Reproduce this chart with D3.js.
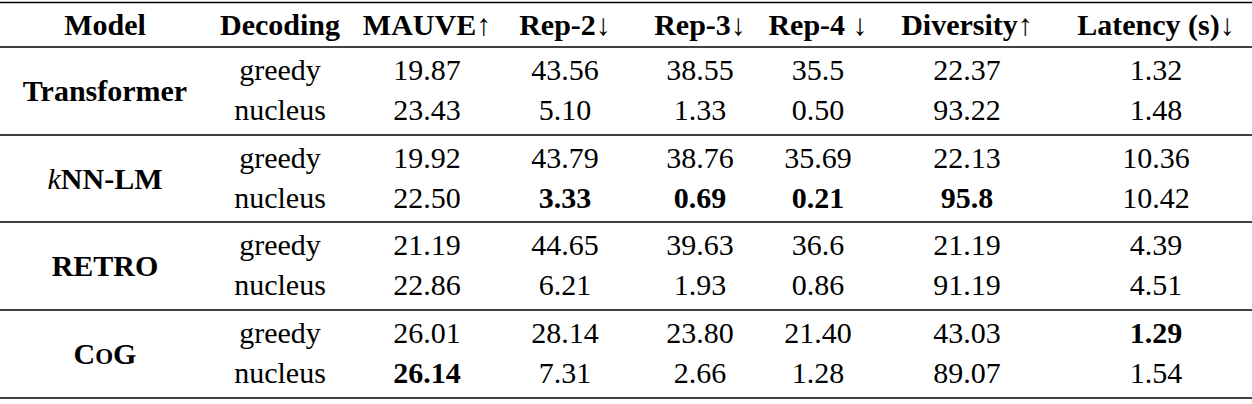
<!DOCTYPE html><html><head><meta charset="utf-8"><script src="https://cdn.jsdelivr.net/npm/d3@7"></script>
<style>body{margin:0;background:#fff}</style></head><body><svg id="c" width="1252" height="404"></svg>
<script>
const headers=["Model","Decoding","MAUVE↑","Rep-2↓","Rep-3↓","Rep-4 ↓","Diversity↑","Latency (s)↓"];
const models=["Transformer","kNN-LM","RETRO","CoG"];
const decodings=["greedy","nucleus"];
const values=[
 [["19.87","43.56","38.55","35.5","22.37","1.32"],["23.43","5.10","1.33","0.50","93.22","1.48"]],
 [["19.92","43.79","38.76","35.69","22.13","10.36"],["22.50","3.33","0.69","0.21","95.8","10.42"]],
 [["21.19","44.65","39.63","36.6","21.19","4.39"],["22.86","6.21","1.93","0.86","91.19","4.51"]],
 [["26.01","28.14","23.80","21.40","43.03","1.29"],["26.14","7.31","2.66","1.28","89.07","1.54"]]
];
const bold=[[1,1,1],[1,1,2],[1,1,3],[1,1,4],[3,1,0],[3,0,5]];
const colX=[105,280,427,565,700,818,967,1156];
const svg=d3.select("#c");
const F="'Liberation Serif','DejaVu Serif',serif";
const FS=30;
const lines=[2.5,47,135,222,310,398];
lines.forEach(v=>svg.append("line").attr("x1",0).attr("x2",1252).attr("y1",v).attr("y2",v).attr("stroke","#000").attr("stroke-width",1.3));
svg.selectAll("text.h").data(headers).join("text").attr("x",(d,i)=>colX[i]).attr("y",35).attr("text-anchor","middle").attr("font-family",F).attr("font-weight","bold").attr("font-size",FS).text(d=>d);
models.forEach((m,mi)=>{
 const top=lines[mi+1];
 const t=svg.append("text").attr("x",colX[0]).attr("y",top+54).attr("text-anchor","middle").attr("font-family",F).attr("font-size",FS).attr("font-weight","bold");
 if(m==="kNN-LM"){t.append("tspan").attr("font-style","italic").attr("font-weight","normal").text("k");t.append("tspan").text("NN-LM");}
 else if(m==="CoG"){t.append("tspan").text("C");t.append("tspan").attr("font-size",23).text("O");t.append("tspan").text("G");}
 else t.text(m);
 decodings.forEach((d,di)=>{
  const yy=top+33+di*40;
  svg.append("text").attr("x",colX[1]).attr("y",yy).attr("text-anchor","middle").attr("font-family",F).attr("font-size",FS).text(d);
  values[mi][di].forEach((v,vi)=>{
   const b=bold.some(q=>q[0]===mi&&q[1]===di&&q[2]===vi);
   svg.append("text").attr("x",colX[vi+2]).attr("y",yy).attr("text-anchor","middle").attr("font-family",F).attr("font-size",FS).attr("font-weight",b?"bold":"normal").text(v);
  });
 });
});
</script></body></html>
